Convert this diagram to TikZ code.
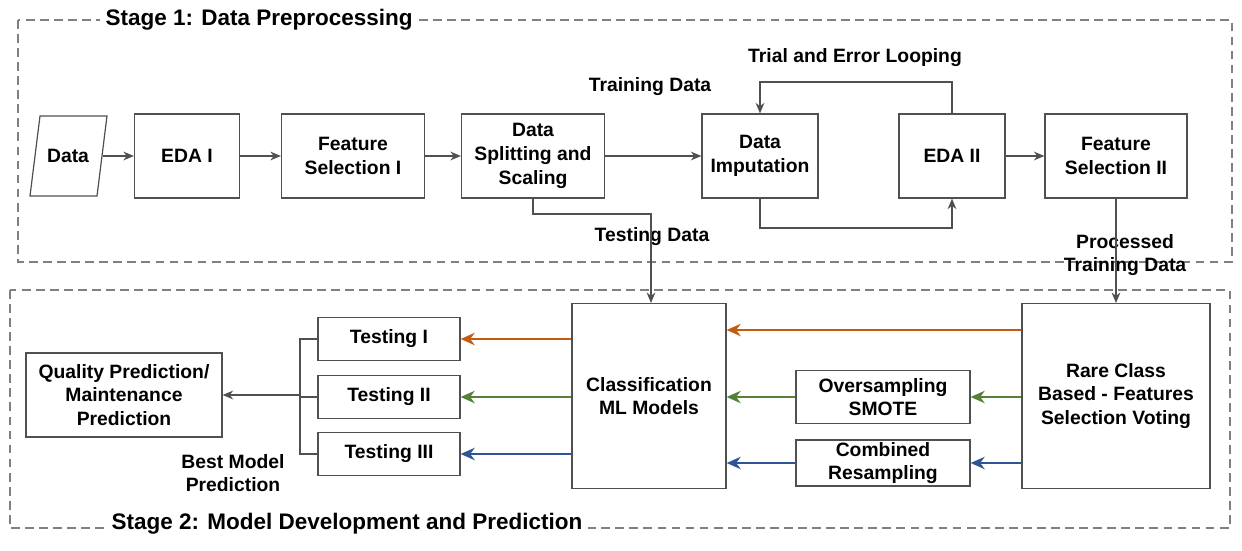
\documentclass[tikz,border=0pt]{standalone}
\usepackage{fontspec}
\setmainfont{Liberation Sans}
\usetikzlibrary{arrows.meta,shapes.geometric}
\definecolor{orn}{HTML}{C55A11}
\definecolor{grn}{HTML}{548235}
\definecolor{blu}{HTML}{2F5597}
\definecolor{ln}{HTML}{505050}
\begin{document}
\begin{tikzpicture}[x=0.02cm,y=-0.02cm,
  box/.style={draw=ln,line width=0.7pt,align=center,font=\fontsize{11}{13.5}\selectfont\bfseries,inner sep=1pt},
  lab/.style={align=center,font=\fontsize{11}{13.5}\selectfont\bfseries},
  ttl/.style={fill=white,anchor=west,inner sep=3pt,font=\fontsize{12.8}{15}\selectfont\bfseries},
  ar/.style={draw=ln,line width=0.7pt,-{Stealth[length=6pt,width=5pt]}},
  car/.style={line width=1.6pt,-{Stealth[length=8pt,width=7pt]}},
  dsh/.style={draw=gray,line width=0.6pt,dash pattern=on 5pt off 3pt}]
\useasboundingbox (0,0) rectangle (1242,551);
\draw[dsh] (18,20) rectangle (1232,262);
\node[ttl] (s1) at (100,20) {Stage 1: Data Preprocessing};
\draw[dsh] (10,290) rectangle (1230,528);
\node[ttl] (s2) at (106,524) {Stage 2: Model Development and Prediction};
% stage 1
\draw[draw=ln,line width=0.7pt] (40,116) -- (107,116) -- (97,196) -- (30,196) -- cycle;
\node[lab,minimum width=77*0.02cm,minimum height=80*0.02cm] (data) at (68,156) {Data};
\node[box,minimum width=105*0.02cm,minimum height=84*0.02cm] (eda1) at (187,156) {EDA I};
\node[box,minimum width=143*0.02cm,minimum height=84*0.02cm] (fs1) at (353,156) {Feature\\Selection I};
\node[box,minimum width=143*0.02cm,minimum height=84*0.02cm] (dss) at (533,156) {Data\\Splitting and\\Scaling};
\node[box,minimum width=116*0.02cm,minimum height=84*0.02cm] (di) at (760,156) {Data\\Imputation};
\node[box,minimum width=106*0.02cm,minimum height=84*0.02cm] (eda2) at (952,156) {EDA II};
\node[box,minimum width=142*0.02cm,minimum height=84*0.02cm] (fs2) at (1116,156) {Feature\\Selection II};
\node[lab] (trd) at (650,87) {Training Data};
\node[lab] (tel) at (855,58) {Trial and Error Looping};
\node[lab] (ted) at (652,237) {Testing Data};
\node[lab] (ptd) at (1125,255) {Processed\\Training Data};
\draw[ar] (103,156) -- (eda1);
\draw[ar] (eda1) -- (fs1);
\draw[ar] (fs1) -- (dss);
\draw[ar] (dss) -- (di);
\draw[ar] (eda2) -- (fs2);
\draw[ar] (eda2.north) -- (952,82) -- (760,82) -- (di.north);
\draw[ar] (di.south) -- (760,228) -- (952,228) -- (eda2.south);
% stage 2
\node[box,minimum width=154*0.02cm,minimum height=185*0.02cm] (cml) at (649,396) {Classification\\ML Models};
\node[box,minimum width=188*0.02cm,minimum height=185*0.02cm] (rc) at (1116,396) {Rare Class\\Based - Features\\Selection Voting};
\node[box,minimum width=174*0.02cm,minimum height=53*0.02cm] (os) at (883,397) {Oversampling\\SMOTE};
\node[box,minimum width=174*0.02cm,minimum height=46*0.02cm] (cr) at (883,463) {Combined\\Resampling};
\node[box,minimum width=142*0.02cm,minimum height=43*0.02cm] (t1) at (389,339) {Testing I};
\node[box,minimum width=142*0.02cm,minimum height=43*0.02cm] (t2) at (389,397) {Testing II};
\node[box,minimum width=142*0.02cm,minimum height=43*0.02cm] (t3) at (389,454) {Testing III};
\node[box,minimum width=196*0.02cm,minimum height=84*0.02cm] (qp) at (124,395) {Quality Prediction/\\Maintenance\\Prediction};
\node[lab] (bmp) at (233,473) {Best Model\\Prediction};
\draw[ar] (dss.south) -- (533,214) -- (651,214) -- (651,303);
\draw[ar] (fs2.south) -- (1116,303);
\draw[car,orn] (rc.west |- 0,330) -- (cml.east |- 0,330);
\draw[car,orn] (cml.west |- 0,339) -- (t1);
\draw[car,grn] (rc.west |- os) -- (os);
\draw[car,grn] (os) -- (cml.east |- os);
\draw[car,grn] (cml.west |- t2) -- (t2);
\draw[car,blu] (rc.west |- cr) -- (cr);
\draw[car,blu] (cr) -- (cml.east |- cr);
\draw[car,blu] (cml.west |- t3) -- (t3);
\draw[draw=ln,line width=0.7pt] (t1.west) -- (300,339) -- (300,454) -- (t3.west);
\draw[draw=ln,line width=0.7pt] (t2.west) -- (300,397);
\draw[ar] (300,395) -- (qp.east);
\end{tikzpicture}
\end{document}
